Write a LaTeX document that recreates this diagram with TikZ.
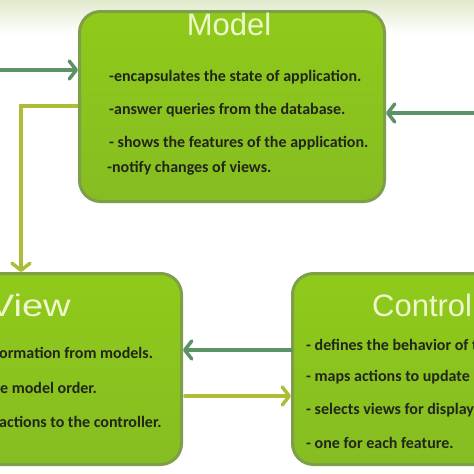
\documentclass[tikz,border=0pt]{standalone}
\usepackage{fontspec}
\setmainfont{Carlito}
\newfontfamily\titlefont{Liberation Sans}
\usetikzlibrary{arrows.meta}
\definecolor{boxtop}{HTML}{8FCA1A}
\definecolor{boxbot}{HTML}{86BD22}
\definecolor{boxline}{HTML}{7E9E4A}
\definecolor{arrteal}{HTML}{5B9366}
\definecolor{arrolive}{HTML}{AFBC38}
\definecolor{titlecol}{HTML}{EEF6CC}
\definecolor{bodycol}{HTML}{22261A}
\definecolor{bandcol}{HTML}{E0EACC}
\tikzset{
  mvcbox/.style={draw=boxline, line width=3pt, rounded corners=21pt,
    top color=boxtop, bottom color=boxbot, inner sep=0pt},
  titletext/.style={font=\titlefont\fontsize{31}{36}\selectfont, text=titlecol, inner sep=0pt},
  bodytext/.style={font=\bfseries\fontsize{16}{19}\selectfont, text=bodycol, inner sep=0pt, anchor=west},
  tealarr/.style={draw=arrteal, line width=3.5pt, line cap=round,
    -{Straight Barb[length=7pt, width=18pt, line cap=round, line join=round]}},
  olivearr/.style={draw=arrolive, line width=3.5pt, line join=miter,
    -{Straight Barb[length=7pt, width=18pt, line cap=round, line join=round]}},
}
\begin{document}
\begin{tikzpicture}[x=1pt, y=-1pt]
\useasboundingbox (0,0) rectangle (474,474);
\begin{scope}
\clip (0,0) rectangle (474,474);
\fill[white] (0,0) rectangle (474,474);
\fill[top color=bandcol, bottom color=white] (0,0) rectangle (474,34);
% boxes
\node[mvcbox, minimum width=305pt, minimum height=190pt, anchor=north west] (model) at (78,10) {};
\node[mvcbox, minimum width=320pt, minimum height=191pt, anchor=north east] (view) at (183,272) {};
\node[mvcbox, minimum width=310pt, minimum height=191pt, anchor=north west] (ctrl) at (291,272) {};
% titles
\node[titletext] (mtitle) at (229,24) {Model};
\node[titletext, anchor=east, xscale=1.23] (vtitle) at (71,305) {View};
\node[titletext, anchor=west] (ctitle) at (372,305) {Control};
% model text
\node[bodytext] (m1) at (109,77) {-encapsulates the state of application.};
\node[bodytext] (m2) at (109,110) {-answer queries from the database.};
\node[bodytext] (m3) at (109,143) {- shows the features of the application.};
\node[bodytext] (m4) at (107,168) {-notify changes of views.};
% view text
\node[bodytext] (v1) at (-1,353) {ormation from models.};
\node[bodytext] (v2) at (0,388) {e model order.};
\node[bodytext] (v3) at (-1,422) {actions to the controller.};
% controller text
\node[bodytext] (c1) at (306,345) {- defines the behavior of t};
\node[bodytext] (c2) at (306,377) {- maps actions to update};
\node[bodytext] (c3) at (306,410) {- selects views for display};
\node[bodytext] (c4) at (306,443) {- one for each feature.};
% connectors
\coordinate (lin) at (-4,70);
\coordinate (rin) at (478,113);
\coordinate (obend) at (21,106);
\coordinate (cv) at (0,350);
\coordinate (vc) at (0,396);
\draw[tealarr] (lin) -- (model.west |- lin);
\draw[tealarr] (rin) -- (model.east |- rin);
\draw[olivearr] (model.west |- obend) -- (obend) -- (view.north -| obend);
\draw[tealarr] (ctrl.west |- cv) -- (view.east |- cv);
\draw[olivearr, line cap=round] (view.east |- vc) ++(2,0) coordinate (vcs) -- (ctrl.west |- vc);
\end{scope}
\end{tikzpicture}
\end{document}
